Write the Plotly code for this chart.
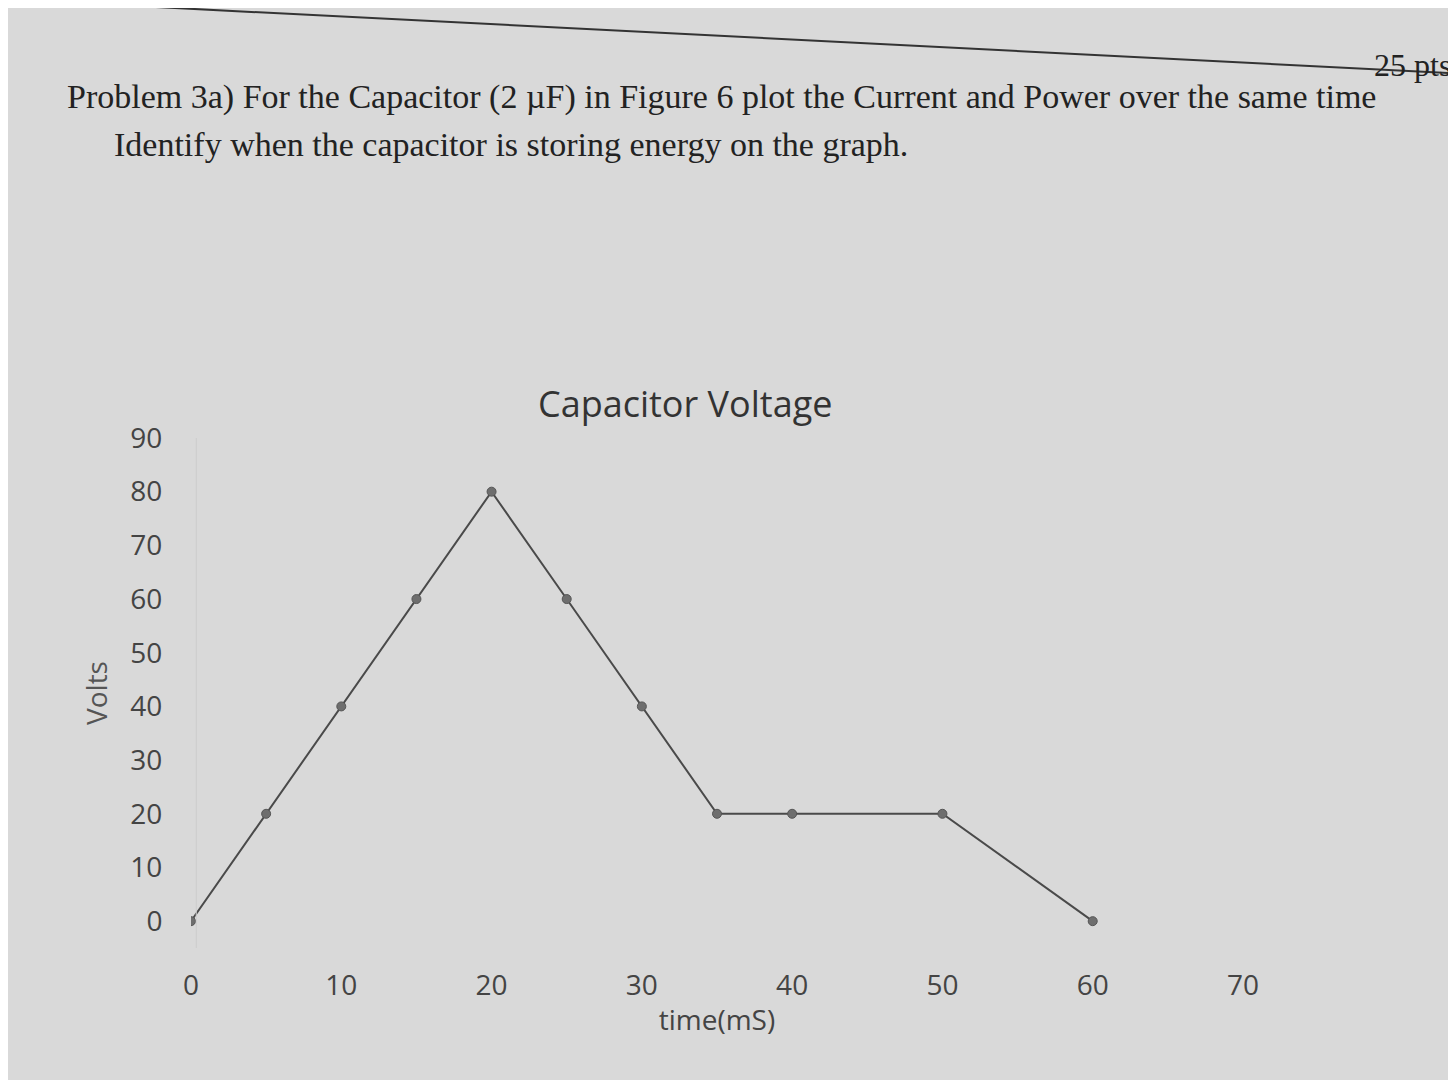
"""Recreate the 'Capacitor Voltage' worksheet chart with Plotly."""

import plotly.graph_objects as go

# Data
time_ms = [0, 5, 10, 15, 20, 25, 30, 35, 40, 50, 60]
volts = [0, 20, 40, 60, 80, 60, 40, 20, 20, 20, 0]
x_ticks = [0, 10, 20, 30, 40, 50, 60, 70]
y_ticks = [0, 10, 20, 30, 40, 50, 60, 70, 80, 90]

SERIF = "Liberation Serif"
SANS = "Open Sans"

fig = go.Figure()
fig.add_trace(
    go.Scatter(
        x=time_ms,
        y=volts,
        mode="lines+markers",
        line=dict(color="#4a4a4a", width=2),
        marker=dict(size=9, color="#6e6e6e", line=dict(color="#555", width=1)),
        showlegend=False,
    )
)

fig.update_layout(
    width=1456,
    height=1080,
    paper_bgcolor="#d9d9d9",
    plot_bgcolor="#d9d9d9",
    margin=dict(l=183, r=221, t=430, b=140),
    xaxis=dict(
        range=[0, 70],
        tickvals=x_ticks,
        showgrid=False,
        zeroline=False,
        showline=False,
        ticks="outside",
        ticklen=12,
        tickcolor="rgba(0,0,0,0)",
        tickfont=dict(family=SANS, size=28, color="#444"),
        title=dict(text="time(mS)", font=dict(family=SANS, size=28, color="#444"), standoff=8),
    ),
    yaxis=dict(
        range=[-5, 90],
        tickvals=y_ticks,
        showgrid=False,
        zeroline=False,
        showline=False,
        ticks="outside",
        ticklen=22,
        tickcolor="rgba(0,0,0,0)",
        tickfont=dict(family=SANS, size=28, color="#444"),
        title=dict(text="Volts", font=dict(family=SANS, size=28, color="#555"), standoff=14),
    ),
    shapes=[
        dict(type="line", xref="paper", yref="paper", x0=0.005, x1=0.005, y0=0, y1=1,
             line=dict(color="#cccccc", width=1)),
        dict(type="line", xref="paper", yref="paper", x0=-0.08, x1=1.2, y0=1.85, y1=1.715,
             line=dict(color="#333", width=2)),
    ],
    annotations=[
        dict(text="Capacitor Voltage", xref="paper", yref="paper", x=0.47, y=1.12,
             showarrow=False, font=dict(family=SANS, size=36, color="#333")),
        dict(text="25 pts", xref="paper", yref="paper", x=1.2, y=1.77,
             xanchor="right", showarrow=False, font=dict(family=SERIF, size=32, color="#222")),
        dict(text="Problem 3a) For the Capacitor (2 µF) in Figure 6 plot the Current and Power over the same time",
             xref="paper", yref="paper", x=-0.12, y=1.71, xanchor="left", showarrow=False,
             font=dict(family=SERIF, size=34, color="#222")),
        dict(text="Identify when the capacitor is storing energy on the graph.",
             xref="paper", yref="paper", x=-0.075, y=1.615, xanchor="left", showarrow=False,
             font=dict(family=SERIF, size=34, color="#222")),
    ],
)

fig.write_html("out.html")
